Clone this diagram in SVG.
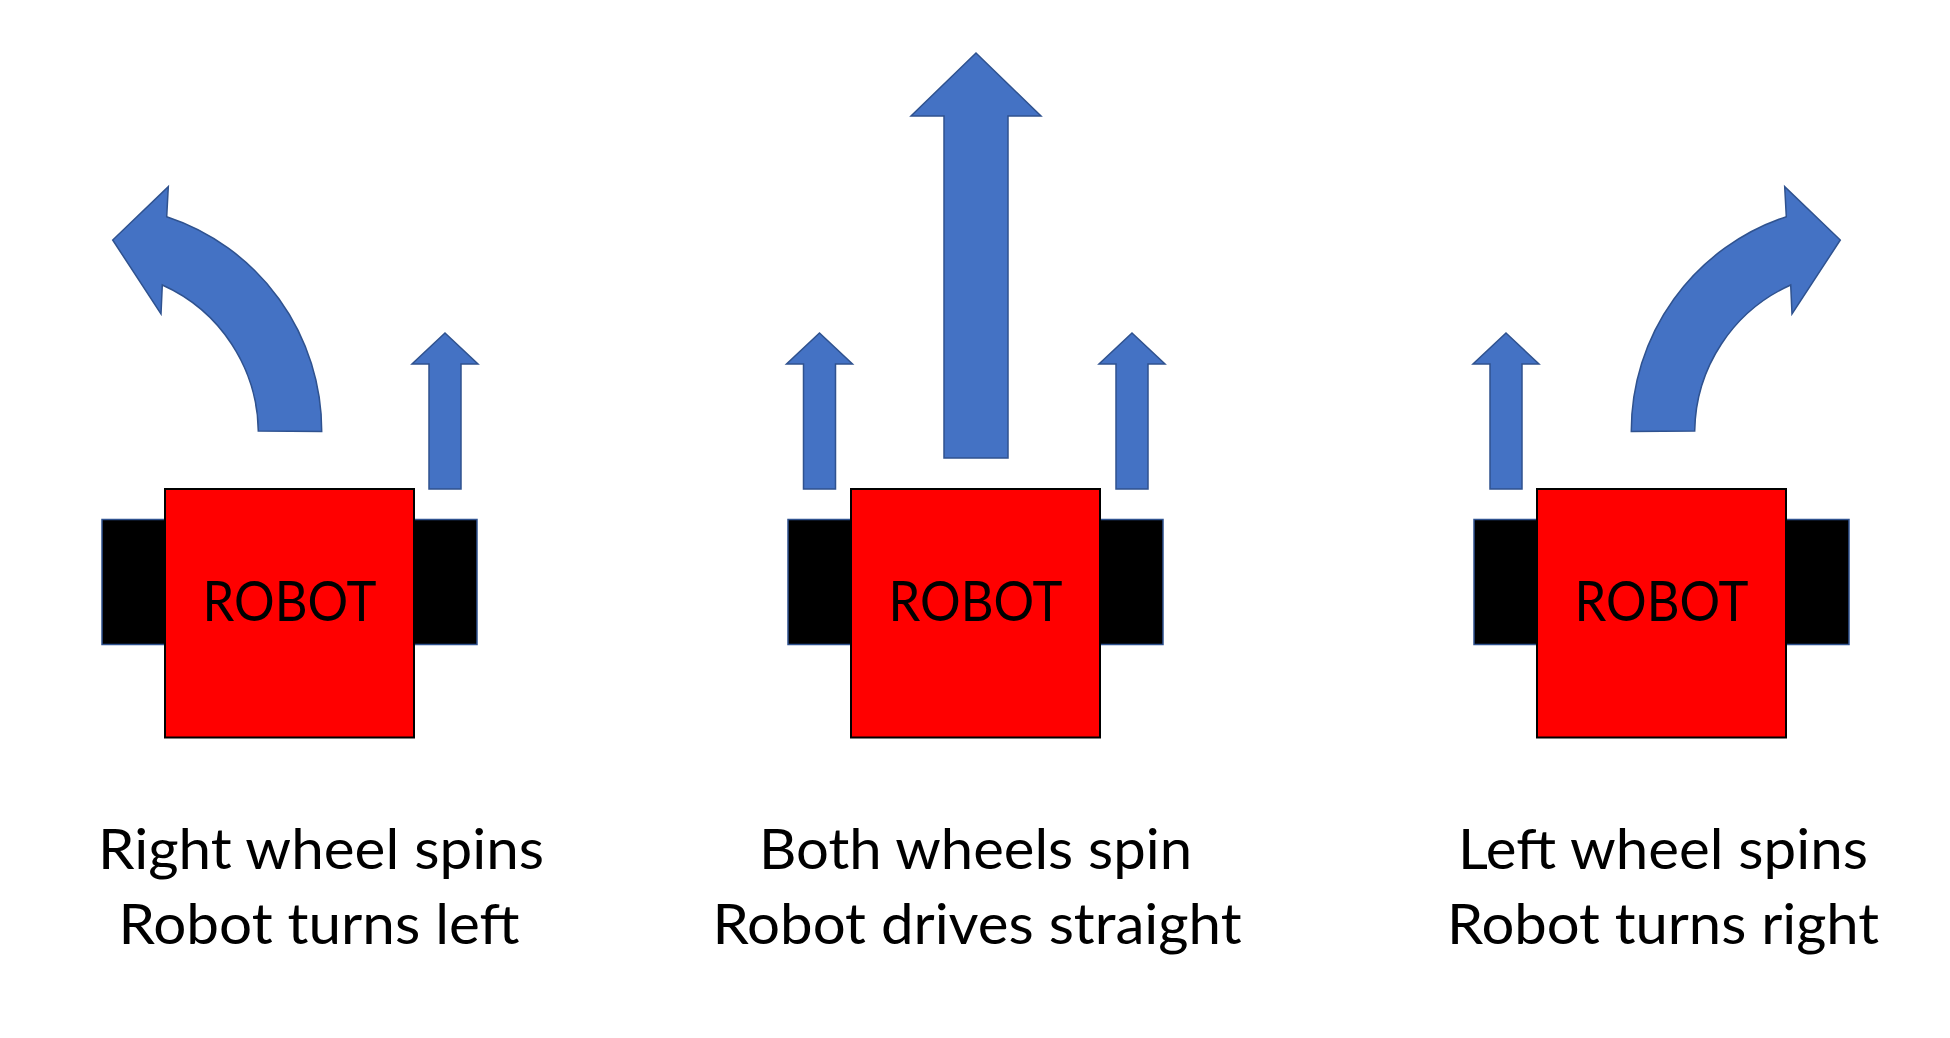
<svg xmlns="http://www.w3.org/2000/svg" xmlns:xlink="http://www.w3.org/1999/xlink" width="1950" height="1038" viewBox="0 0 1950 1038">
  <style>
    .arrow { fill: #4472C4; stroke: #2F528F; stroke-width: 1.5; stroke-linejoin: miter; }
    .body { fill: #FF0000; stroke: #000000; stroke-width: 2; }
    .wheel { fill: #000000; stroke: #2F528F; stroke-width: 1.5; }
    .robot-label { font-family: Lato, "Open Sans", "Liberation Sans", sans-serif; font-size: 57px; fill: #000000; text-anchor: middle; }
    .caption { font-family: Lato, "Open Sans", "Liberation Sans", sans-serif; font-size: 56px; fill: #000000; text-anchor: middle; }
  </style>
  <defs>
    <path id="smallArrow" class="arrow" d="M0,0 L33,31 L16,31 L16,156 L-16,156 L-16,31 L-33,31 Z"/>
    <path id="curvedArrow" class="arrow" d="M258.3,431 L321.7,431.5 A225.6,225.6 0 0 0 166.7,216.7 L168.3,186.7 L112.7,240 L161,314 L162.3,285 A162.3,162.3 0 0 1 258.3,431 Z"/>
  </defs>
  <rect width="1950" height="1038" fill="#FFFFFF"/>

  <g id="robot-left">
    <rect class="wheel" x="102" y="519.5" width="63" height="125"/>
    <rect class="wheel" x="414" y="519.5" width="63" height="125"/>
    <rect class="body" x="165" y="489" width="249" height="248.5"/>
    <text class="robot-label" x="289.5" y="621" textLength="174" lengthAdjust="spacingAndGlyphs">ROBOT</text>
  </g>
  <g id="robot-center">
    <rect class="wheel" x="788" y="519.5" width="63" height="125"/>
    <rect class="wheel" x="1100" y="519.5" width="63" height="125"/>
    <rect class="body" x="851" y="489" width="249" height="248.5"/>
    <text class="robot-label" x="975.5" y="621" textLength="174" lengthAdjust="spacingAndGlyphs">ROBOT</text>
  </g>
  <g id="robot-right">
    <rect class="wheel" x="1474" y="519.5" width="63" height="125"/>
    <rect class="wheel" x="1786" y="519.5" width="63" height="125"/>
    <rect class="body" x="1537" y="489" width="249" height="248.5"/>
    <text class="robot-label" x="1661.5" y="621" textLength="174" lengthAdjust="spacingAndGlyphs">ROBOT</text>
  </g>

  <g id="arrows">
    <use xlink:href="#curvedArrow" href="#curvedArrow"/>
    <use xlink:href="#smallArrow" href="#smallArrow" x="445" y="333"/>
    <use xlink:href="#smallArrow" href="#smallArrow" x="819.5" y="333"/>
    <path class="arrow" d="M976,53 L1041,116 L1008,116 L1008,458 L944,458 L944,116 L911,116 Z"/>
    <use xlink:href="#smallArrow" href="#smallArrow" x="1132" y="333"/>
    <use xlink:href="#smallArrow" href="#smallArrow" x="1506" y="333"/>
    <use xlink:href="#curvedArrow" href="#curvedArrow" transform="matrix(-1 0 0 1 1953 0)"/>
  </g>

  <g id="caption-left">
    <text class="caption" x="321" y="869" textLength="446" lengthAdjust="spacingAndGlyphs">Right wheel spins</text>
    <text class="caption" x="319" y="944" textLength="401" lengthAdjust="spacingAndGlyphs">Robot turns left</text>
  </g>
  <g id="caption-center">
    <text class="caption" x="975.5" y="869" textLength="433" lengthAdjust="spacingAndGlyphs">Both wheels spin</text>
    <text class="caption" x="977" y="944" textLength="529" lengthAdjust="spacingAndGlyphs">Robot drives straight</text>
  </g>
  <g id="caption-right">
    <text class="caption" x="1663" y="869" textLength="410" lengthAdjust="spacingAndGlyphs">Left wheel spins</text>
    <text class="caption" x="1663" y="944" textLength="432" lengthAdjust="spacingAndGlyphs">Robot turns right</text>
  </g>
</svg>
